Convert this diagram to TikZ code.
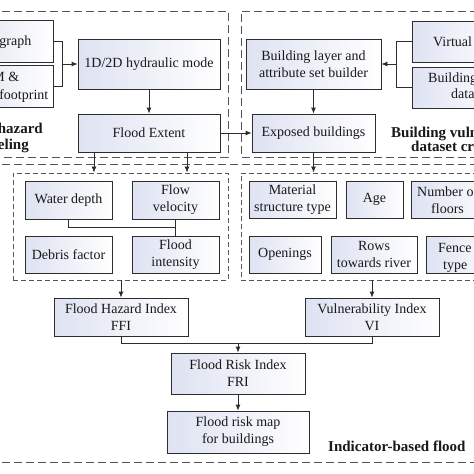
\documentclass[tikz,border=0pt]{standalone}
\usepackage{fontspec}
\setmainfont{Liberation Serif}
\usetikzlibrary{arrows.meta}
\definecolor{boxl}{RGB}{222,226,242}
\definecolor{lin}{RGB}{45,45,45}
\definecolor{dshc}{RGB}{85,85,85}
\definecolor{txt}{RGB}{25,25,25}
\begin{document}
\begin{tikzpicture}[x=1pt,y=-1pt,
  box/.style={draw=lin, line width=0.8pt, left color=boxl, right color=white, align=center,
    font=\fontsize{14}{17}\selectfont, text=txt, inner sep=0pt},
  frag/.style={inner sep=0pt, font=\fontsize{14}{17}\selectfont, text=txt},
  ttl/.style={inner sep=0pt, font=\fontsize{15}{16}\selectfont\bfseries, text=txt},
  con/.style={draw=lin, line width=0.8pt},
  arr/.style={con, -{Latex[length=6pt,width=5pt]}},
  dsh/.style={draw=dshc, line width=1pt, dash pattern=on 8pt off 4pt},
  idsh/.style={draw=dshc, line width=0.9pt, dash pattern=on 5pt off 3pt, inner sep=0pt}]
\useasboundingbox[fill=white] (0,0) rectangle (474,474);

% outer dashed frames
\draw[dsh] (-10,11) -- (228,11) -- (228,157) -- (-10,157);
\draw[dsh] (490,11) -- (241,11) -- (241,157) -- (490,157);
\draw[dsh] (-10,164) -- (490,164);
\draw[dsh] (-10,462) -- (490,462);

% inner dashed frames
\node[idsh, minimum width=215pt, minimum height=107pt] (inL) at (120.5,226.5) {};
\node[idsh, minimum width=249pt, minimum height=107pt] (inR) at (365.5,226.5) {};

% upper left
\node[box, minimum width=93pt, minimum height=42pt] (hg) at (6.5,41) {};
\node[box, minimum width=93pt, minimum height=42pt] (dem) at (6.5,86) {};
\node[box, minimum width=142pt, minimum height=50pt] (hyd) at (149,64) {1D/2D hydraulic mode};
\node[box, minimum width=142pt, minimum height=38pt] (ext) at (149,133) {Flood Extent};

% upper right
\node[box, minimum width=135pt, minimum height=50pt] (bld) at (313.5,64) {Building layer and\\attribute set builder};
\node[box, minimum width=88pt, minimum height=41pt] (vir) at (456,41.5) {};
\node[box, minimum width=88pt, minimum height=41pt] (bdd) at (456,87.5) {};
\node[box, minimum width=123pt, minimum height=38pt] (exp) at (313.5,133) {Exposed buildings};

% hazard indicators
\node[box, minimum width=87pt, minimum height=38pt] (wd) at (68.5,200) {Water depth};
\node[box, minimum width=87pt, minimum height=38pt] (fv) at (175.5,200) {Flow\\velocity};
\node[box, minimum width=87pt, minimum height=37pt] (df) at (68.5,254.5) {Debris factor};
\node[box, minimum width=87pt, minimum height=37pt] (fi) at (175.5,254.5) {Flood\\intensity};

% vulnerability indicators
\node[box, minimum width=87pt, minimum height=37pt] (ms) at (292.5,199.5) {Material\\structure type};
\node[box, minimum width=57pt, minimum height=37pt] (age) at (374.5,199.5) {Age};
\node[box, minimum width=89pt, minimum height=37pt] (nf) at (455.5,199.5) {};
\node[box, minimum width=72pt, minimum height=37pt] (op) at (285,254.5) {Openings};
\node[box, minimum width=86pt, minimum height=37pt] (rw) at (374,254.5) {Rows\\towards river};
\node[box, minimum width=74pt, minimum height=37pt] (fc) at (463,254.5) {};

% indices
\node[box, minimum width=134pt, minimum height=38pt] (ffi) at (121,317) {Flood Hazard Index\\FFI};
\node[box, minimum width=134pt, minimum height=38pt] (vi) at (372,317) {Vulnerability Index\\VI};
\node[box, minimum width=134pt, minimum height=41pt] (fri) at (238,373.5) {Flood Risk Index\\FRI};
\node[box, minimum width=142pt, minimum height=42pt] (map) at (238,432) {Flood risk map\\for buildings};

% cut-off texts
\node[frag, anchor=base east] (t1) at (31.5,45.5) {graph};
\node[frag, anchor=base east] (t2) at (19.5,81.5) {M \&};
\node[frag, anchor=base east] (t3) at (48.5,99.5) {footprint};
\node[ttl, anchor=base east] (t4) at (43,133) {hazard};
\node[ttl, anchor=base east] (t5) at (29,149) {eling};
\node[frag, anchor=base west] (t6) at (433,46.5) {Virtual};
\node[frag, anchor=base west] (t7) at (428,82.5) {Building};
\node[frag, anchor=base west] (t8) at (451,98.5) {data};
\node[ttl, anchor=base west] (t9) at (391,137) {Building vuln};
\node[ttl, anchor=base west] (t10) at (411,151) {dataset cr};
\node[frag, anchor=base west] (t11) at (417,196.5) {Number o};
\node[frag, anchor=base west] (t12) at (431,213) {floors};
\node[frag, anchor=base west] (t13) at (438,252.5) {Fence};
\node[frag, anchor=base west] (t14) at (443,269.5) {type};
\node[ttl, anchor=base west] (t15) at (328,451) {Indicator-based flood};

% connectors upper left
\draw[con] (hg.east) -- ++(9,0) |- (dem.east);
\coordinate (bj) at (62,64);
\draw[arr] (bj) -- (bj -| hyd.west);
\draw[arr] (hyd) -- (ext);
\draw[arr] (ext) -- (exp);

% connectors upper right
\draw[con] (vir.west) -- ++(-15,0) |- (bdd.west);
\coordinate (bk) at (397,64);
\draw[arr] (bk) -- (bk -| bld.east);
\draw[arr] (bld) -- (exp);

% to indicator frames
\coordinate (c1) at (94,0);
\coordinate (c2) at (187,0);
\draw[arr] (ext.south -| c1) -- (inL.north -| c1);
\draw[arr] (ext.south -| c2) -- (inL.north -| c2);
\draw[arr] (exp.south) -- (exp.south |- inR.north);

% inside hazard frame
\draw[con] (wd.south) -- ++(0,8) -| (fv.south);
\draw[con] (fv.south) -- (fi.north);

% to indices
\draw[arr] (ffi.north |- inL.south) -- (ffi.north);
\draw[arr] (vi.north |- inR.south) -- (vi.north);
\draw[con] (ffi.south) -- ++(0,7) -| (vi.south);
\coordinate (jn) at (238,343);
\draw[arr] (jn) -- (fri.north);
\draw[arr] (fri) -- (map);
\end{tikzpicture}
\end{document}
